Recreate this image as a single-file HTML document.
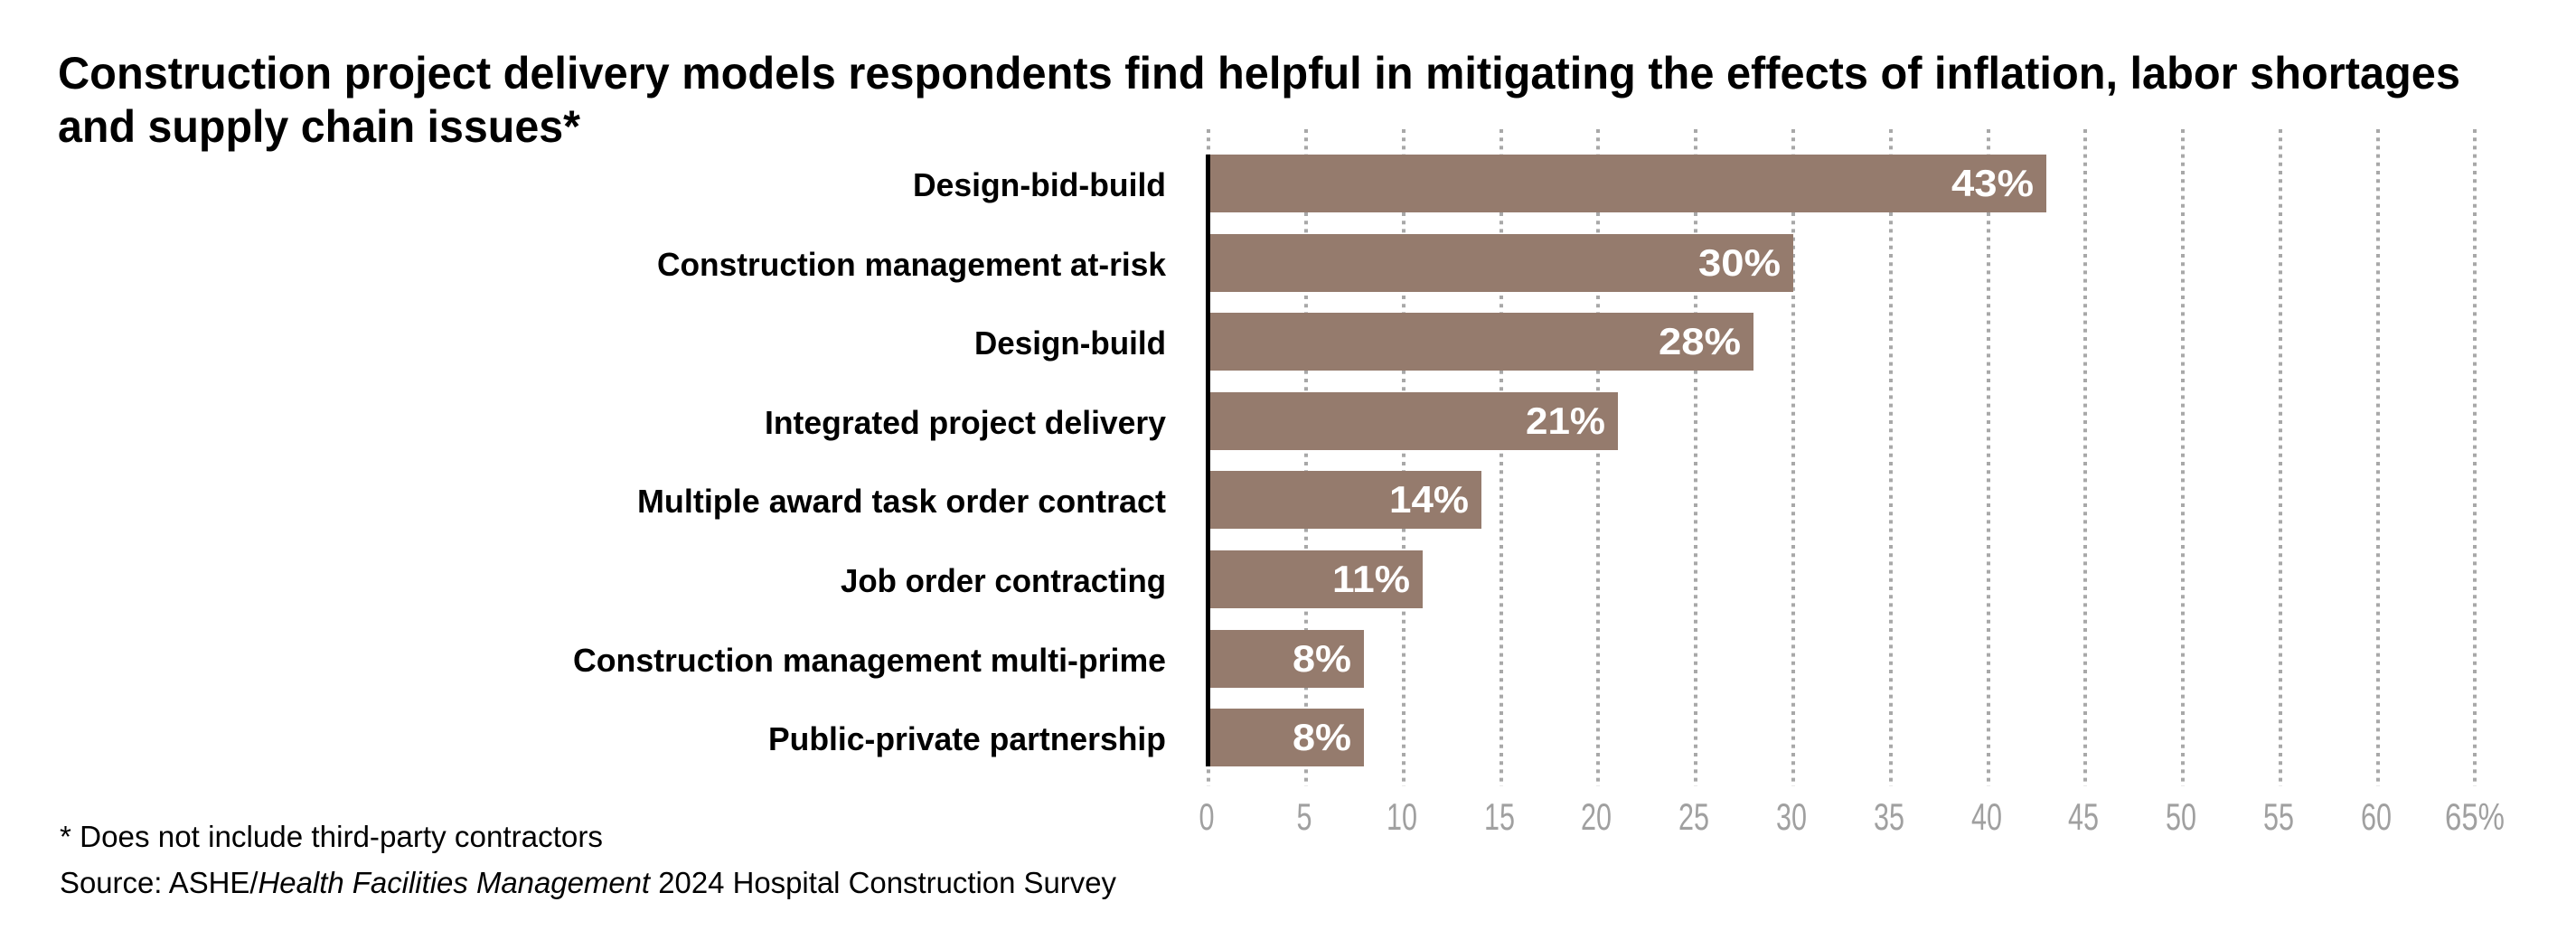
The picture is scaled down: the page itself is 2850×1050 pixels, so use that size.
<!DOCTYPE html>
<html><head><meta charset="utf-8"><style>
html,body{margin:0;padding:0;background:#fff;}
svg{display:block;}
text{font-family:"Liberation Sans",sans-serif;}
</style></head><body>
<svg width="2850" height="1050" viewBox="0 0 2850 1050" xmlns="http://www.w3.org/2000/svg">
<rect width="2850" height="1050" fill="#fff"/>
<g font-weight="bold" font-size="50" fill="#000">
<text x="64" y="98" textLength="2658" lengthAdjust="spacingAndGlyphs">Construction project delivery models respondents find helpful in mitigating the effects of inflation, labor shortages</text>
<text x="64" y="157" textLength="578" lengthAdjust="spacingAndGlyphs">and supply chain issues*</text>
</g>
<g stroke="#a8a8a8" stroke-width="4" stroke-dasharray="4,5.2">
<line x1="1337" y1="143" x2="1337" y2="870"/>
<line x1="1445" y1="143" x2="1445" y2="870"/>
<line x1="1553" y1="143" x2="1553" y2="870"/>
<line x1="1661" y1="143" x2="1661" y2="870"/>
<line x1="1768" y1="143" x2="1768" y2="870"/>
<line x1="1876" y1="143" x2="1876" y2="870"/>
<line x1="1984" y1="143" x2="1984" y2="870"/>
<line x1="2092" y1="143" x2="2092" y2="870"/>
<line x1="2200" y1="143" x2="2200" y2="870"/>
<line x1="2307" y1="143" x2="2307" y2="870"/>
<line x1="2415" y1="143" x2="2415" y2="870"/>
<line x1="2523" y1="143" x2="2523" y2="870"/>
<line x1="2631" y1="143" x2="2631" y2="870"/>
<line x1="2738" y1="143" x2="2738" y2="870"/>
</g>
<g fill="#957b6d">
<rect x="1337" y="171" width="927" height="64"/>
<rect x="1337" y="259" width="647" height="64"/>
<rect x="1337" y="346" width="603" height="64"/>
<rect x="1337" y="434" width="453" height="64"/>
<rect x="1337" y="521" width="302" height="64"/>
<rect x="1337" y="609" width="237" height="64"/>
<rect x="1337" y="697" width="172" height="64"/>
<rect x="1337" y="784" width="172" height="64"/>
</g>
<rect x="1334" y="171" width="5" height="677" fill="#000"/>
<g font-weight="bold" font-size="36" fill="#000" text-anchor="end">
<text x="1290" y="217" textLength="280" lengthAdjust="spacingAndGlyphs">Design-bid-build</text>
<text x="1290" y="305" textLength="563" lengthAdjust="spacingAndGlyphs">Construction management at-risk</text>
<text x="1290" y="392" textLength="212" lengthAdjust="spacingAndGlyphs">Design-build</text>
<text x="1290" y="480" textLength="444" lengthAdjust="spacingAndGlyphs">Integrated project delivery</text>
<text x="1290" y="567" textLength="585" lengthAdjust="spacingAndGlyphs">Multiple award task order contract</text>
<text x="1290" y="655" textLength="360" lengthAdjust="spacingAndGlyphs">Job order contracting</text>
<text x="1290" y="743" textLength="656" lengthAdjust="spacingAndGlyphs">Construction management multi-prime</text>
<text x="1290" y="830" textLength="440" lengthAdjust="spacingAndGlyphs">Public-private partnership</text>
</g>
<g font-weight="bold" font-size="42" fill="#fff" text-anchor="end">
<text x="2250" y="217" textLength="91" lengthAdjust="spacingAndGlyphs">43%</text>
<text x="1970" y="305" textLength="91" lengthAdjust="spacingAndGlyphs">30%</text>
<text x="1926" y="392" textLength="91" lengthAdjust="spacingAndGlyphs">28%</text>
<text x="1776" y="480" textLength="88" lengthAdjust="spacingAndGlyphs">21%</text>
<text x="1625" y="567" textLength="88" lengthAdjust="spacingAndGlyphs">14%</text>
<text x="1560" y="655" textLength="86" lengthAdjust="spacingAndGlyphs">11%</text>
<text x="1495" y="743" textLength="65" lengthAdjust="spacingAndGlyphs">8%</text>
<text x="1495" y="830" textLength="65" lengthAdjust="spacingAndGlyphs">8%</text>
</g>
<g font-size="42" fill="#a0a0a0" text-anchor="middle">
<text x="1335" y="918" textLength="17" lengthAdjust="spacingAndGlyphs">0</text>
<text x="1443" y="918" textLength="17" lengthAdjust="spacingAndGlyphs">5</text>
<text x="1551" y="918" textLength="34" lengthAdjust="spacingAndGlyphs">10</text>
<text x="1659" y="918" textLength="34" lengthAdjust="spacingAndGlyphs">15</text>
<text x="1766" y="918" textLength="34" lengthAdjust="spacingAndGlyphs">20</text>
<text x="1874" y="918" textLength="34" lengthAdjust="spacingAndGlyphs">25</text>
<text x="1982" y="918" textLength="34" lengthAdjust="spacingAndGlyphs">30</text>
<text x="2090" y="918" textLength="34" lengthAdjust="spacingAndGlyphs">35</text>
<text x="2198" y="918" textLength="34" lengthAdjust="spacingAndGlyphs">40</text>
<text x="2305" y="918" textLength="34" lengthAdjust="spacingAndGlyphs">45</text>
<text x="2413" y="918" textLength="34" lengthAdjust="spacingAndGlyphs">50</text>
<text x="2521" y="918" textLength="34" lengthAdjust="spacingAndGlyphs">55</text>
<text x="2629" y="918" textLength="34" lengthAdjust="spacingAndGlyphs">60</text>
<text x="2738" y="918" textLength="66" lengthAdjust="spacingAndGlyphs">65%</text>
</g>
<g font-size="33" fill="#000">
<text x="66" y="937" textLength="601" lengthAdjust="spacingAndGlyphs">* Does not include third-party contractors</text>
<text x="66" y="988" textLength="1169" lengthAdjust="spacingAndGlyphs">Source: ASHE/<tspan font-style="italic">Health Facilities Management</tspan> 2024 Hospital Construction Survey</text>
</g>
</svg>
</body></html>
